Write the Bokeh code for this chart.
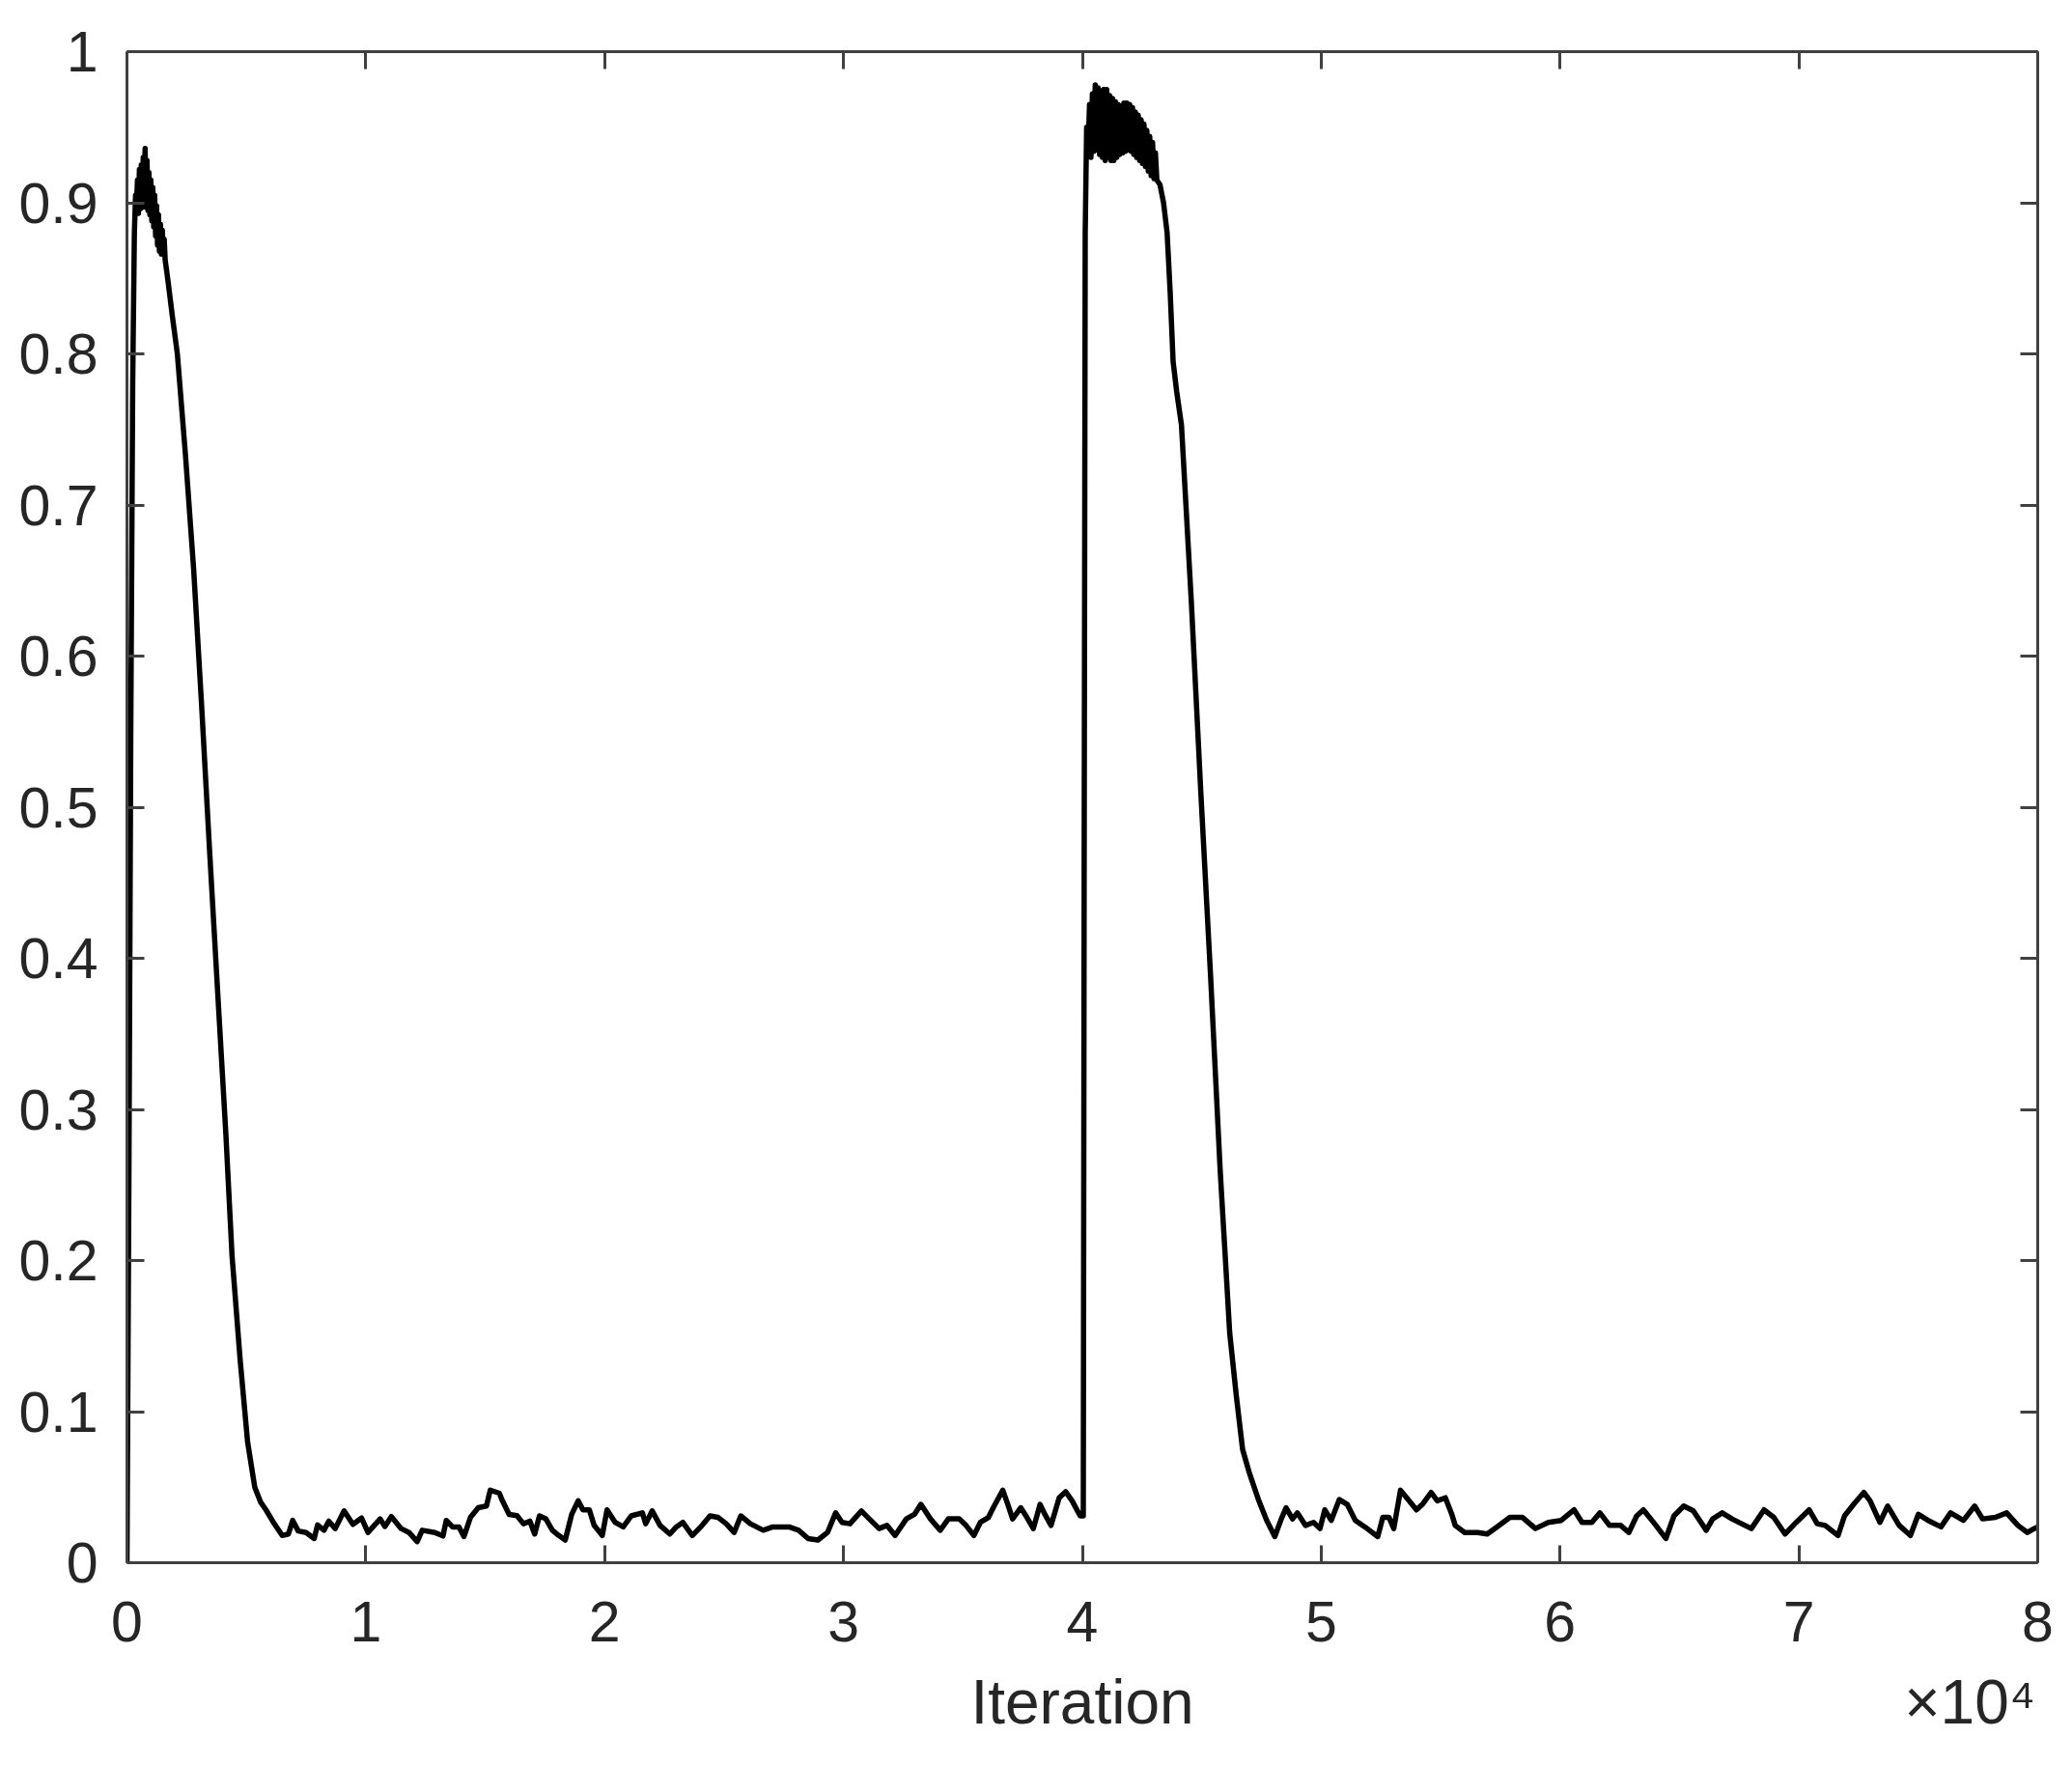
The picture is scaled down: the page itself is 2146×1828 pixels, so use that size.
from bokeh.plotting import figure
from bokeh.models import LinearAxis, FixedTicker, CustomJSTickFormatter, Range1d
from bokeh.embed import file_html
from bokeh.resources import INLINE

# x values in units of 10^4 iterations, y values
rise1 = [(0.0, 0.0), (0.008, 0.25), (0.016, 0.55), (0.024, 0.78), (0.031, 0.88), (0.036, 0.905)]
peak1 = [(0.040, 0.9), (0.044, 0.915), (0.048, 0.893), (0.052, 0.922), (0.056, 0.896), (0.060, 0.925),
         (0.064, 0.897), (0.068, 0.93), (0.072, 0.9), (0.076, 0.936), (0.080, 0.897), (0.084, 0.928),
         (0.088, 0.895), (0.092, 0.92), (0.096, 0.892), (0.100, 0.915), (0.104, 0.888), (0.108, 0.91),
         (0.112, 0.884), (0.116, 0.905), (0.120, 0.878), (0.124, 0.898), (0.128, 0.872), (0.132, 0.892),
         (0.136, 0.868), (0.140, 0.886), (0.144, 0.866), (0.148, 0.882), (0.152, 0.866), (0.156, 0.876),
         (0.160, 0.862)]
descent1 = [(0.172, 0.848), (0.19, 0.825), (0.211, 0.80), (0.245, 0.733), (0.279, 0.658), (0.313, 0.566),
            (0.346, 0.471), (0.38, 0.377), (0.414, 0.284), (0.44, 0.203), (0.474, 0.134), (0.505, 0.08),
            (0.535, 0.05), (0.56, 0.04), (0.582, 0.035), (0.616, 0.026), (0.65, 0.018)]
noise1 = [(0.676, 0.019), (0.694, 0.028), (0.717, 0.021), (0.75, 0.020), (0.784, 0.016), (0.798, 0.025),
          (0.825, 0.0215), (0.845, 0.0275), (0.872, 0.0226), (0.909, 0.0343), (0.946, 0.0254), (0.982, 0.0296),
          (1.009, 0.020), (1.06, 0.029), (1.08, 0.024), (1.107, 0.0305), (1.148, 0.0226), (1.181, 0.020),
          (1.215, 0.014), (1.236, 0.0215), (1.289, 0.020), (1.323, 0.0177), (1.337, 0.028), (1.363, 0.0237),
          (1.39, 0.0237), (1.411, 0.0173), (1.438, 0.030), (1.471, 0.0364), (1.505, 0.0375), (1.521, 0.048),
          (1.559, 0.046), (1.572, 0.041), (1.6, 0.032), (1.633, 0.0311), (1.66, 0.0258), (1.687, 0.0275),
          (1.707, 0.019), (1.727, 0.031), (1.754, 0.029), (1.781, 0.0215), (1.808, 0.018), (1.835, 0.015),
          (1.862, 0.032), (1.889, 0.041), (1.909, 0.035), (1.936, 0.035), (1.956, 0.0247), (1.99, 0.018),
          (2.01, 0.035), (2.044, 0.0267), (2.078, 0.0237), (2.111, 0.031), (2.158, 0.033), (2.172, 0.0258),
          (2.199, 0.0343), (2.232, 0.0247), (2.273, 0.019), (2.3, 0.0237), (2.327, 0.0267), (2.367, 0.018),
          (2.408, 0.0247), (2.441, 0.031), (2.475, 0.030), (2.509, 0.0258), (2.542, 0.020), (2.57, 0.031),
          (2.61, 0.0258), (2.664, 0.0215), (2.704, 0.0237), (2.772, 0.0237), (2.812, 0.0215), (2.852, 0.016),
          (2.893, 0.015), (2.933, 0.020), (2.967, 0.033), (2.994, 0.0267), (3.027, 0.0258), (3.075, 0.0343),
          (3.108, 0.029), (3.149, 0.0226), (3.182, 0.0247), (3.216, 0.018), (3.263, 0.029), (3.297, 0.032),
          (3.324, 0.0386), (3.364, 0.029), (3.405, 0.0215), (3.439, 0.029), (3.485, 0.029), (3.513, 0.0247),
          (3.546, 0.018), (3.573, 0.0267), (3.607, 0.030), (3.627, 0.0364), (3.667, 0.048), (3.688, 0.0386),
          (3.708, 0.029), (3.742, 0.0364), (3.768, 0.030), (3.795, 0.0226), (3.823, 0.0386), (3.843, 0.032),
          (3.869, 0.0247), (3.903, 0.043), (3.93, 0.047), (3.957, 0.041), (3.991, 0.031)]
rise2 = [(4.004, 0.031), (4.008, 0.5), (4.012, 0.88), (4.018, 0.95)]
peak2 = [(4.024, 0.935), (4.03, 0.965), (4.036, 0.93), (4.042, 0.972), (4.048, 0.934), (4.054, 0.978),
         (4.06, 0.935), (4.066, 0.976), (4.072, 0.932), (4.078, 0.974), (4.084, 0.93), (4.09, 0.975),
         (4.096, 0.928), (4.102, 0.975), (4.108, 0.93), (4.114, 0.971), (4.12, 0.928), (4.126, 0.969),
         (4.132, 0.928), (4.138, 0.967), (4.144, 0.93), (4.15, 0.965), (4.156, 0.932), (4.162, 0.964),
         (4.168, 0.933), (4.174, 0.966), (4.18, 0.934), (4.186, 0.966), (4.192, 0.935), (4.198, 0.965),
         (4.204, 0.934), (4.21, 0.963), (4.216, 0.932), (4.222, 0.96), (4.228, 0.93), (4.234, 0.958),
         (4.24, 0.928), (4.246, 0.955), (4.252, 0.926), (4.258, 0.952), (4.264, 0.924), (4.27, 0.948),
         (4.276, 0.921), (4.282, 0.944), (4.288, 0.918), (4.294, 0.94), (4.3, 0.916), (4.306, 0.933),
         (4.312, 0.915)]
descent2 = [(4.325, 0.912), (4.34, 0.90), (4.355, 0.88), (4.368, 0.84), (4.38, 0.795), (4.395, 0.775),
            (4.415, 0.753), (4.456, 0.637), (4.496, 0.51), (4.537, 0.388), (4.577, 0.26), (4.617, 0.152),
            (4.645, 0.11), (4.671, 0.075), (4.698, 0.06), (4.739, 0.041), (4.772, 0.028), (4.806, 0.0173)]
noise2 = [(4.833, 0.029), (4.853, 0.0364), (4.88, 0.029), (4.9, 0.033), (4.934, 0.0247), (4.968, 0.0267),
          (4.995, 0.0226), (5.015, 0.035), (5.042, 0.028), (5.076, 0.0418), (5.109, 0.0386), (5.143, 0.028),
          (5.183, 0.0237), (5.237, 0.0173), (5.258, 0.030), (5.284, 0.030), (5.304, 0.0226), (5.332, 0.048),
          (5.358, 0.043), (5.399, 0.035), (5.426, 0.039), (5.46, 0.0465), (5.486, 0.041), (5.52, 0.043),
          (5.547, 0.032), (5.561, 0.0247), (5.601, 0.020), (5.655, 0.020), (5.695, 0.019), (5.736, 0.0237),
          (5.79, 0.030), (5.843, 0.030), (5.897, 0.0226), (5.951, 0.0267), (6.005, 0.028), (6.059, 0.035),
          (6.092, 0.0267), (6.133, 0.0267), (6.167, 0.033), (6.207, 0.0247), (6.254, 0.0247), (6.288, 0.020),
          (6.321, 0.031), (6.349, 0.035), (6.396, 0.0258), (6.443, 0.016), (6.477, 0.031), (6.518, 0.0375),
          (6.558, 0.0343), (6.612, 0.0215), (6.639, 0.029), (6.679, 0.033), (6.72, 0.029), (6.76, 0.0258),
          (6.801, 0.0226), (6.854, 0.035), (6.895, 0.030), (6.942, 0.019), (6.989, 0.0267), (7.043, 0.035),
          (7.077, 0.0258), (7.11, 0.0247), (7.164, 0.018), (7.191, 0.031), (7.231, 0.039), (7.272, 0.0465),
          (7.298, 0.041), (7.339, 0.0267), (7.372, 0.0375), (7.42, 0.0247), (7.467, 0.018), (7.5, 0.032),
          (7.541, 0.028), (7.595, 0.0237), (7.635, 0.033), (7.689, 0.028), (7.736, 0.0375), (7.769, 0.029),
          (7.823, 0.030), (7.87, 0.033), (7.917, 0.0247), (7.957, 0.020), (7.985, 0.0226), (8.0, 0.0237)]

x_ticks = [0, 1, 2, 3, 4, 5, 6, 7, 8]
y_ticks = [0, 0.1, 0.2, 0.3, 0.4, 0.5, 0.6, 0.7, 0.8, 0.9, 1]
x_label = "Iteration"
exp_text = "×10⁴"
caption_at = [4.0, 7.716]   # centres of "Iteration" and of the ×10⁴ multiplier

segments = [rise1, peak1, descent1, noise1, rise2, peak2, descent2, noise2]
pts = [pt for seg in segments for pt in seg]
xs = [a for a, b in pts]
ys = [b for a, b in pts]

FONT = "Liberation Sans"
TXT = "#262626"
AX = "#404040"

p = figure(frame_width=1979, frame_height=1565, output_backend="svg", toolbar_location=None,
           x_range=Range1d(0, 8), y_range=Range1d(0, 1),
           min_border_left=131, min_border_right=20, min_border_top=53, min_border_bottom=194)
p.grid.visible = False
p.outline_line_color = None
p.background_fill_color = "white"
p.border_fill_color = "white"

p.line(xs, ys, line_color="black", line_width=5.5, line_join="round")

p.add_layout(LinearAxis(), "right")
p.add_layout(LinearAxis(), "above")

for ax in p.xaxis:
    ax.ticker = FixedTicker(ticks=x_ticks)
    ax.formatter = CustomJSTickFormatter(code="return String(Math.round(tick));")
for ax in p.yaxis:
    ax.ticker = FixedTicker(ticks=y_ticks)
    ax.formatter = CustomJSTickFormatter(code="return String(Math.round(tick*10)/10);")

for ax in list(p.xaxis) + list(p.yaxis):
    ax.axis_line_color = AX
    ax.axis_line_width = 3
    ax.major_tick_line_color = AX
    ax.major_tick_line_width = 3
    ax.major_tick_in = 18
    ax.major_tick_out = 0
    ax.minor_tick_line_color = None
    ax.major_label_text_font = FONT
    ax.major_label_text_font_size = "59px"
    ax.major_label_text_color = TXT

p.below[0].major_label_standoff = 40
p.left[0].major_label_standoff = 30
for ax in (p.right[0], p.above[0]):
    ax.major_label_text_color = None
    ax.major_label_standoff = 0

# second row under the x axis: the axis title and the x10^4 multiplier on one line
cap = LinearAxis(ticker=FixedTicker(ticks=caption_at),
                 formatter=CustomJSTickFormatter(args=dict(a=x_label, b=exp_text),
                                                 code="return tick < 6 ? a : b;"))
cap.axis_line_color = None
cap.major_tick_line_color = None
cap.minor_tick_line_color = None
cap.major_tick_in = 0
cap.major_tick_out = 0
cap.major_label_standoff = 24
cap.major_label_text_font = FONT
cap.major_label_text_font_size = "64px"
cap.major_label_text_color = TXT
p.add_layout(cap, "below")

open("out.html", "w").write(file_html(p, INLINE))
